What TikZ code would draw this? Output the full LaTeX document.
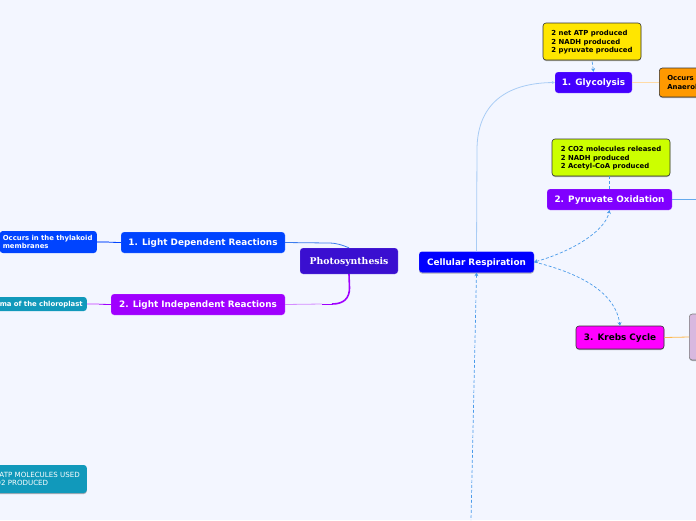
\documentclass[tikz,border=0pt]{standalone}
\usepackage{fontspec}
\setmainfont{DejaVu Sans}
\newfontfamily\serifbold{DejaVu Serif}
\usetikzlibrary{shadows,arrows.meta}
\definecolor{pagebg}{HTML}{F3F6FF}
\definecolor{glycofill}{HTML}{4400FF}
\definecolor{pyrufill}{HTML}{8000FF}
\definecolor{lightdepfill}{HTML}{0044FF}
\definecolor{lightindfill}{HTML}{A000FF}
\definecolor{photofill}{HTML}{3A0FD0}
\definecolor{tealfill}{HTML}{1199BB}
\definecolor{mauvefill}{HTML}{D8B8E0}
\definecolor{krebsfill}{HTML}{FF00FF}
\definecolor{yellowfill}{HTML}{FFE600}
\definecolor{limefill}{HTML}{CCFF00}
\definecolor{orangefill}{HTML}{FF9900}
\definecolor{linkblue}{HTML}{4A9BEA}
\definecolor{paleblue}{HTML}{A8CCF5}
\begin{document}
\begin{tikzpicture}
[x=1pt,y=-1pt,
  softshadow/.style={drop shadow={shadow xshift=0pt,shadow yshift=-1pt,fill=black,opacity=.3}},
  basebox/.style={shape=rectangle,rounded corners=3pt,inner sep=0pt,text depth=0pt,font=\bfseries\fontsize{8.85}{10}\selectfont},
  whitebox/.style={basebox,text=white,draw=white,draw opacity=.35},
  darkbox/.style={basebox,text=black,draw=black!80,semithick,softshadow},
  leaffont/.style={align=left,font=\bfseries\fontsize{6.9}{8.6}\selectfont},
  dashlink/.style={linkblue,densely dashed,line width=.7pt,{Stealth[length=3.5pt,width=4pt]}-},
  solidlink/.style={paleblue,line width=.8pt}]
\clip[use as bounding box] (0,0) rectangle (696,520);
\fill[pagebg] (0,0) rectangle (696,520);
%% main nodes
\foreach \nodename/\x/\y/\w/\h/\colour/\decorate/\name in {
  glyco/593.5/82.5/77/21/glycofill/whitebox/{1. Glycolysis},
  pyru/609.5/199.5/125/21/pyrufill/whitebox/{2. Pyruvate Oxidation},
  krebs/620/337.5/88/23/krebsfill/darkbox/{3. Krebs Cycle},
  lightdep/203/242.5/164/21/lightdepfill/whitebox/{1. Light Dependent Reactions},
  lightind/198/304.5/174/21/lightindfill/whitebox/{2. Light Independent Reactions}} {
  \node (\nodename) at (\x,\y) [\decorate,fill=\colour,minimum width=\w,minimum height=\h] {\name};
}
\node (cellresp) at (476.5,262) [whitebox,fill=blue,minimum width=115,minimum height=21,softshadow] {Cellular Respiration};
\node (photo) at (349,261) [whitebox,fill=photofill,minimum width=98,minimum height=26,font=\serifbold\bfseries\fontsize{9.3}{10}\selectfont] {Photosynthesis};
%% leaf nodes
\node (netatp) at (592,41.5) [darkbox,leaffont,fill=yellowfill,minimum width=98,minimum height=37] {2 net ATP produced\\2 NADH produced\\2 pyruvate produced};
\node (carbon) at (611,157.5) [darkbox,leaffont,fill=limefill,minimum width=118,minimum height=37] {2 CO2 molecules released\\2 NADH produced\\2 Acetyl-CoA produced};
\node (anaerobic) at (659,82.5) [darkbox,leaffont,anchor=west,fill=orangefill,inner xsep=8pt,minimum height=29] {Occurs\\Anaerobic\hspace{40pt}};
\node (mauve) at (689,337) [darkbox,anchor=west,draw=black!50,fill=mauvefill,minimum width=40,minimum height=46] {};
\node (thylakoid) at (97,242) [basebox,leaffont,text depth={},anchor=east,text=white,fill=lightdepfill,minimum height=22,inner xsep=3pt,text width=91] {Occurs in the thylakoid\\membranes};
\node (stroma) at (87,304) [basebox,leaffont,anchor=east,text=white,fill=tealfill,minimum height=14,inner xsep=4pt,text width=83] {ma of the chloroplast};
\node (atpused) at (87,479) [basebox,text depth={},anchor=east,align=left,text=white,fill=tealfill,softshadow,font=\fontsize{7.1}{8.6}\selectfont,minimum height=28,inner xsep=7pt] {ATP MOLECULES USED\\\hspace*{-4pt}O2 PRODUCED};
%% free ends
\coordinate (pyruout) at (696,199.5);
\coordinate (fromsouth) at (471,520);
%% edges or lines
\draw[solidlink,-{Stealth[length=3pt,width=3pt]}] (cellresp.north) -- (477,150) .. controls (477,105) and (505,83) .. (glyco.west);
\draw[solidlink,orangefill!35] (glyco.east) -- (anaerobic.west);
\draw[solidlink,linkblue!85] (pyru.east) -- (pyruout);
\draw[solidlink,orangefill!70] (krebs.east) -- (mauve.west);
\draw[dashlink] (glyco.north) -- (netatp.south);
\draw[dashlink,-] (pyru.north) -- (carbon.south -| pyru.north);
\draw[dashlink,{Stealth[length=3.5pt,width=4pt]}-{Stealth[length=3.5pt,width=4pt]}] (cellresp.east) .. controls (570,252) and (605,232) .. (pyru.south);
\draw[dashlink,-{Stealth[length=3.5pt,width=4pt]}] (cellresp.east) .. controls (575,272) and (615,290) .. (krebs.north);
\draw[dashlink] (cellresp.south) -- (fromsouth);
\draw[solidlink,linkblue!80!blue] (lightdep.east) -- (328,243) .. controls (337,243) and (342,245) .. (photo.north);
\draw[lightindfill!45,line width=.8pt] (lightind.east) -- (322,304);
\draw[lightindfill,line width=.9pt] (322,304) -- (332,304);
\draw[lightindfill,line width=1.6pt] (332,304) .. controls (344,304) and (349.5,298) .. (349.5,288) -- (photo.south);
\draw[lightdepfill,line width=.8pt] (lightdep.west) -- (thylakoid.east);
\draw[lightdepfill!50,line width=1.4pt] (thylakoid.east) -- ++(12,0);
\draw[lightindfill,line width=.8pt] (lightind.west) -- (stroma.east);
\draw[lightindfill!30,line width=1.4pt] (stroma.east) -- ++(12,0);
\end{tikzpicture}
\end{document}
